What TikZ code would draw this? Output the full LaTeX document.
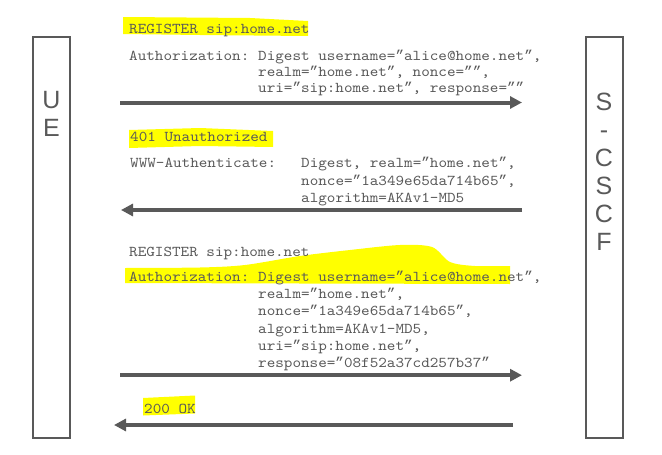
\documentclass[tikz,border=0pt]{standalone}
\usepackage{fontspec}
\newfontfamily\monofnt{lmmono10-regular.otf}[FakeStretch=1.09]
\newfontfamily\libmono{Liberation Mono}
\newfontfamily\sansfnt{Liberation Sans}
\newcommand\qt{{\libmono\fontsize{14.3}{17}\selectfont ”}}
\usetikzlibrary{arrows.meta}
\definecolor{txtgray}{HTML}{595959}
\definecolor{hlyellow}{HTML}{FFFF00}
\begin{document}
\begin{tikzpicture}[x=1pt,y=-1pt,
  msg/.style={anchor=base west, inner sep=0pt, text=txtgray, font=\monofnt\fontsize{15}{17}\selectfont},
  entity/.style={draw=txtgray, line width=2pt, minimum width=37pt, minimum height=401pt, inner sep=0pt},
  entlabel/.style={text=txtgray, font=\sansfnt\fontsize{25}{28}\selectfont, align=center, inner sep=0pt, anchor=north},
  sig/.style={draw=txtgray, line width=4pt, -{Triangle[length=12pt,width=12pt]}},
  hl/.style={fill=hlyellow}]
\useasboundingbox[fill=white] (0,0) rectangle (662,455);

% highlights
\fill[hl] (123,17) -- (250,18) -- (308,21) -- (308,36) -- (200,35) -- (123,34) -- cycle;
\fill[hl] (129,130) -- (200,128) -- (273,131) -- (273,147) -- (200,146) -- (129,148) -- cycle;
\fill[hl] plot[smooth] coordinates {(125,268) (200,267.5) (245,265) (300,256) (350,250) (400,245) (432,247) (450,262) (475,266) (510,266)}
  -- (510,284) -- (300,283.5) -- (125,283) -- cycle;
\fill[hl] (143,398) -- (195,395.5) -- (195,413.5) -- (143,415.5) -- cycle;

% entities
\node[entity] (ue) at (51.5,237.5) {};
\node[entity] (scscf) at (604,237.5) {};
\node[entlabel] (uelabel) at (51.5,91.5) {U\\E};
\node[entlabel] (scscflabel) at (604,92.5) {S\\-\\C\\S\\C\\F};

% message 1
\node[msg] (r1) at (129,34) {REGISTER sip:home.net};
\node[msg] (a1h) at (129,60) {Authorization:};
\node[msg] (a1v1) at (258,60) {Digest username=\qt alice@home.net\qt,};
\node[msg] (a1v2) at (258,76) {realm=\qt home.net\qt, nonce=\qt\qt,};
\node[msg] (a1v3) at (258,92) {uri=\qt sip:home.net\qt, response=\qt\qt};
\coordinate (m1s) at (120,102.5);
\coordinate (m1e) at (522,102.5);
\draw[sig] (m1s) -- (m1e);

% message 2
\node[msg] (u401) at (130,141.5) {401 Unauthorized};
\node[msg] (wh) at (130,167.8) {WWW-Authenticate:};
\node[msg] (wv1) at (301,167.8) {Digest, realm=\qt home.net\qt,};
\node[msg] (wv2) at (301,185) {nonce=\qt 1a349e65da714b65\qt,};
\node[msg] (wv3) at (301,202.2) {algorithm=AKAv1-MD5};
\coordinate (m2s) at (522,210);
\coordinate (m2e) at (121,210);
\draw[sig] (m2s) -- (m2e);

% message 3
\node[msg] (r3) at (129,256.5) {REGISTER sip:home.net};
\node[msg] (a3h) at (129,281.5) {Authorization:};
\node[msg] (a3v1) at (258,281.5) {Digest username=\qt alice@home.net\qt,};
\node[msg] (a3v2) at (258,298.7) {realm=\qt home.net\qt,};
\node[msg] (a3v3) at (258,315.9) {nonce=\qt 1a349e65da714b65\qt,};
\node[msg] (a3v4) at (258,333.1) {algorithm=AKAv1-MD5,};
\node[msg] (a3v5) at (258,350.3) {uri=\qt sip:home.net\qt,};
\node[msg] (a3v6) at (258,367.5) {response=\qt 08f52a37cd257b37\qt};
\coordinate (m3s) at (120,375.2);
\coordinate (m3e) at (522,375.2);
\draw[sig] (m3s) -- (m3e);

% message 4
\node[msg] (ok) at (144,413.8) {200 OK};
\coordinate (m4s) at (513,425);
\coordinate (m4e) at (114,425);
\draw[sig] (m4s) -- (m4e);
\end{tikzpicture}
\end{document}
